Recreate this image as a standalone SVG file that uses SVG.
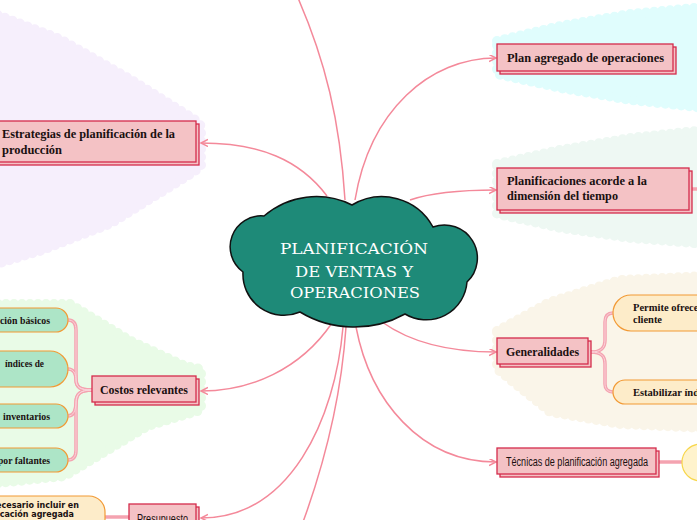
<svg xmlns="http://www.w3.org/2000/svg" width="697" height="520" viewBox="0 0 697 520">
<style>
.bg{stroke-width:10;stroke-dasharray:0 8;stroke-linecap:round;stroke-linejoin:round}
.node rect{fill:#f4c2c5;stroke:#d42c4c;stroke-width:1.3}
.lbl{font-family:"Liberation Serif","DejaVu Serif",serif;font-weight:bold;font-size:13px;fill:#1a1010}
.cond{font-family:"Liberation Sans","DejaVu Sans",sans-serif;font-weight:normal;font-size:12.5px;fill:#1a1010}
.sub{font-family:"Liberation Serif","DejaVu Serif",serif;font-weight:bold;font-size:10.5px;fill:#1a1010}
.conn path{fill:none;stroke:#f4899a;stroke-width:1.5}
.br{fill:none;stroke:#f4a3b0;stroke-width:3.5}
.bri{fill:none;stroke:#fbd3da;stroke-width:1}
.gpill{fill:#ade5c7;stroke:#f29a35;stroke-width:1.2}
.ypill{fill:#fdecc9;stroke:#f29a35;stroke-width:1.2}
</style>
<defs>
<marker id="arr" markerUnits="userSpaceOnUse" markerWidth="10" markerHeight="10" refX="7" refY="3.5" orient="auto">
<path d="M0,0 L7,3.5 L0,7" fill="none" stroke="#f4899a" stroke-width="1.5"/>
</marker>
</defs>
<rect width="697" height="520" fill="#ffffff"/>

<!-- background regions -->
<g id="backgrounds">
<polygon class="bg" fill="#f6effc" stroke="#f6effc" points="-10,12 60,39 130,79 194,119 201,126 201,166 194,172 110,224 40,251 -10,266"/>
<polygon class="bg" fill="#e0fdfd" stroke="#e0fdfd" points="497,41 560,26 630,14 705,7 705,108 630,100 560,88 497,74"/>
<polygon class="bg" fill="#eef8f3" stroke="#eef8f3" points="497,164 560,150 630,138 705,130 705,244 630,238 560,228 497,214"/>
<polygon class="bg" fill="#faf5e9" stroke="#faf5e9" points="497,331 550,302 620,280 705,276 705,428 620,424 550,412 497,369"/>
<polygon class="bg" fill="#e9fbe7" stroke="#e9fbe7" points="-10,304 70,304 131,341 185,366 201,369 201,410 148,426 98,456 65,476 -10,484"/>
</g>

<!-- connectors -->
<g id="connectors" class="conn">
<path d="M345,200 C340,120 325,60 298,-2"/>
<path d="M327,196 C300,160 260,143 201,143" marker-end="url(#arr)"/>
<path d="M355,200 C370,110 430,58 496,58" marker-end="url(#arr)"/>
<path d="M410,200 C430,193 460,190 496,190" marker-end="url(#arr)"/>
<path d="M382,322 C410,342 450,352 496,352" marker-end="url(#arr)"/>
<path d="M356,327 C370,400 420,462 496,462" marker-end="url(#arr)"/>
<path d="M332,323 C300,370 250,391 201,391" marker-end="url(#arr)"/>
<path d="M343,327 C335,420 290,518 201,518" marker-end="url(#arr)"/>
<path d="M346,327 C341,400 322,470 303,522"/>
</g>

<!-- branch ribbons -->
<g id="branches">
<path class="br" d="M92,390 C80,390 76,388 76,378 L76,330 C76,323 73,320 68,320"/>
<path class="br" d="M92,390 C80,390 76,387 76,380 C76,373 73,369 68,369"/>
<path class="br" d="M92,390 C80,390 76,394 76,402 C76,411 73,416 68,416"/>
<path class="br" d="M92,390 C80,390 76,394 76,404 L76,450 C76,457 73,460 68,460"/>
<path class="bri" d="M92,390 C80,390 76,388 76,378 L76,330 C76,323 73,320 68,320"/>
<path class="bri" d="M92,390 C80,390 76,387 76,380 C76,373 73,369 68,369"/>
<path class="bri" d="M92,390 C80,390 76,394 76,402 C76,411 73,416 68,416"/>
<path class="bri" d="M92,390 C80,390 76,394 76,404 L76,450 C76,457 73,460 68,460"/>
<path class="br" d="M591,352 C601,352 605,348 605,340 L605,322 C605,316 608,313 613,313"/>
<path class="br" d="M591,352 C601,352 605,356 605,364 L605,384 C605,389 608,392 613,392"/>
<path class="bri" d="M591,352 C601,352 605,348 605,340 L605,322 C605,316 608,313 613,313"/>
<path class="bri" d="M591,352 C601,352 605,356 605,364 L605,384 C605,389 608,392 613,392"/>
<path class="br" d="M659,462 L682,462"/>
<path class="br" d="M692,189 L700,189"/>
<path class="br" d="M105,517 L129,517"/>
</g>

<!-- central cloud -->
<g id="central">
<path d="M243,272 A31,31 0 0 1 264,216 A80,80 0 0 1 352,205 A58,58 0 0 1 433,227 A33,33 0 0 1 467,282 A41,41 0 0 1 405,314 A105,105 0 0 1 300,312 A41,41 0 0 1 243,272 Z" fill="#1e8a78" stroke="#111" stroke-width="1.5"/>
<g font-family="'DejaVu Serif','Liberation Serif',serif" font-size="15" fill="#ffffff" text-anchor="middle">
<text x="354" y="254" textLength="148" lengthAdjust="spacingAndGlyphs">PLANIFICACIÓN</text>
<text x="354" y="277" textLength="118" lengthAdjust="spacingAndGlyphs">DE VENTAS Y</text>
<text x="355" y="298" textLength="130" lengthAdjust="spacingAndGlyphs">OPERACIONES</text>
</g>
</g>

<g id="plan-agregado" class="node">
<rect x="500" y="47" width="176" height="27"/>
<rect x="497" y="44" width="176" height="27"/>
<text class="lbl" x="507" y="62" textLength="157" lengthAdjust="spacingAndGlyphs">Plan agregado de operaciones</text>
</g>

<g id="planificaciones" class="node">
<rect x="500" y="171" width="192" height="42"/>
<rect x="497" y="168" width="192" height="42"/>
<text class="lbl" x="507" y="185" textLength="140" lengthAdjust="spacingAndGlyphs">Planificaciones acorde a la</text>
<text class="lbl" x="507" y="200" textLength="111" lengthAdjust="spacingAndGlyphs">dimensión del tiempo</text>
</g>

<g id="generalidades" class="node">
<rect x="500" y="341" width="91" height="26"/>
<rect x="497" y="338" width="91" height="26"/>
<text class="lbl" x="506" y="356" font-size="14" textLength="73" lengthAdjust="spacingAndGlyphs">Generalidades</text>
</g>

<g id="tecnicas" class="node">
<rect x="500" y="451" width="159" height="26"/>
<rect x="497" y="448" width="159" height="26"/>
<text class="cond" x="506" y="466" textLength="142" lengthAdjust="spacingAndGlyphs">Técnicas de planificación agregada</text>
</g>

<g id="estrategias" class="node">
<rect x="-10" y="124" width="209" height="41"/>
<rect x="-13" y="121" width="209" height="41"/>
<text class="lbl" x="2" y="138" textLength="173" lengthAdjust="spacingAndGlyphs">Estrategias de planificación de la</text>
<text class="lbl" x="2" y="154" textLength="60" lengthAdjust="spacingAndGlyphs">producción</text>
</g>

<g id="costos" class="node">
<rect x="95" y="379" width="104" height="26"/>
<rect x="92" y="376" width="104" height="26"/>
<text class="lbl" x="100" y="394" font-size="14" textLength="88" lengthAdjust="spacingAndGlyphs">Costos relevantes</text>
</g>

<g id="presupuesto" class="node">
<rect x="132" y="507" width="67" height="26"/>
<rect x="129" y="504" width="67" height="26"/>
<text class="cond" x="137" y="523" font-size="14" textLength="51" lengthAdjust="spacingAndGlyphs">Presupuesto</text>
</g>

<g id="costo-basicos">
<rect class="gpill" x="-30" y="308" width="98" height="24" rx="12"/>
<text class="sub" x="0" y="324" textLength="50" lengthAdjust="spacingAndGlyphs">ción básicos</text>
</g>
<g id="costo-indices">
<rect class="gpill" x="-30" y="351" width="98" height="36" rx="18"/>
<text class="sub" x="5" y="367" textLength="39" lengthAdjust="spacingAndGlyphs">índices de</text>
</g>
<g id="costo-inventarios">
<rect class="gpill" x="-30" y="404" width="98" height="24" rx="12"/>
<text class="sub" x="3" y="420" textLength="47" lengthAdjust="spacingAndGlyphs">inventarios</text>
</g>
<g id="costo-faltantes">
<rect class="gpill" x="-30" y="448" width="98" height="24" rx="12"/>
<text class="sub" x="-2" y="464" textLength="52" lengthAdjust="spacingAndGlyphs">por faltantes</text>
</g>

<g id="gen-permite">
<rect class="ypill" x="613" y="295" width="120" height="36" rx="18"/>
<text class="sub" x="633" y="311" font-size="10">Permite ofrecer</text>
<text class="sub" x="633" y="323" font-size="10" textLength="29" lengthAdjust="spacingAndGlyphs">cliente</text>
</g>
<g id="gen-estabilizar">
<rect class="ypill" x="613" y="380" width="120" height="24" rx="12"/>
<text class="sub" x="633" y="396" font-size="10">Estabilizar índi</text>
</g>

<g id="tecnicas-sub">
<rect x="682" y="444" width="60" height="37" rx="18.5" fill="#fff3cc" stroke="#f7d64a" stroke-width="1.2"/>
</g>

<g id="presupuesto-sub">
<rect class="ypill" x="-30" y="496" width="135" height="40" rx="16"/>
<g font-family="'DejaVu Sans','Liberation Sans',sans-serif" font-weight="bold" font-size="8" fill="#1a1010" text-anchor="end">
<text x="79" y="508">necesario incluir en</text>
<text x="74" y="517">planificación agregada</text>
</g>
</g>
</svg>
